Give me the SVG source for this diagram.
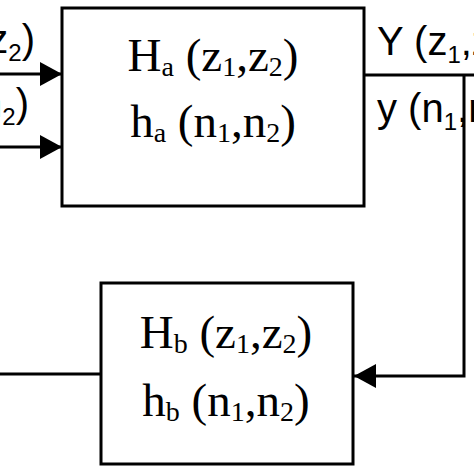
<svg xmlns="http://www.w3.org/2000/svg" width="474" height="474" viewBox="0 0 474 474">
  <style>
    .box { fill: #ffffff; stroke: #000000; stroke-width: 3; }
    .wire { fill: none; stroke: #000000; stroke-width: 3; }
    .serif { font-family: "Liberation Serif", "Times New Roman", serif; font-size: 47px; fill: #000000; }
    .sans { font-family: "Liberation Sans", Arial, sans-serif; font-size: 40px; fill: #000000; }
  </style>
  <defs>
    <marker id="arrow" markerUnits="userSpaceOnUse" markerWidth="23" markerHeight="24" refX="22" refY="12" orient="auto" viewBox="0 0 23 24">
      <path d="M0,0 L22,12 L0,24 Z" fill="#000000"/>
    </marker>
  </defs>
  <rect width="474" height="474" fill="#ffffff"/>

  <g id="connectors">
    <line class="wire" x1="0" y1="74" x2="62" y2="74" marker-end="url(#arrow)"/>
    <line class="wire" x1="0" y1="147" x2="62" y2="147" marker-end="url(#arrow)"/>
    <polyline class="wire" points="364,75 474,75"/>
    <polyline class="wire" points="464,75 464,376 354,376" marker-end="url(#arrow)"/>
    <line class="wire" x1="0" y1="374" x2="101" y2="374"/>
  </g>

  <g id="input-labels">
    <text class="sans" x="35" y="53" text-anchor="end">X (z<tspan font-size="24" dy="8">1</tspan><tspan dy="-8">,z</tspan><tspan font-size="24" dy="8">2</tspan><tspan dy="-8">)</tspan></text>
    <text class="sans" x="29" y="117" text-anchor="end">x (n<tspan font-size="24" dy="8">1</tspan><tspan dy="-8">,n</tspan><tspan font-size="24" dy="8">2</tspan><tspan dy="-8">)</tspan></text>
  </g>

  <g id="node-a">
    <rect class="box" x="62" y="8" width="302" height="198"/>
    <text class="serif" x="213" y="71" text-anchor="middle">H<tspan font-size="28" dy="5">a</tspan><tspan dy="-5"> (z</tspan><tspan font-size="28" dy="5">1</tspan><tspan dy="-5">,z</tspan><tspan font-size="28" dy="5">2</tspan><tspan dy="-5">)</tspan></text>
    <text class="serif" x="213" y="137" text-anchor="middle">h<tspan font-size="28" dy="5">a</tspan><tspan dy="-5"> (n</tspan><tspan font-size="28" dy="5">1</tspan><tspan dy="-5">,n</tspan><tspan font-size="28" dy="5">2</tspan><tspan dy="-5">)</tspan></text>
  </g>

  <g id="output-labels">
    <text class="sans" x="377" y="55">Y (z<tspan font-size="24" dy="8">1</tspan><tspan dy="-8">,z</tspan><tspan font-size="24" dy="8">2</tspan><tspan dy="-8">)</tspan></text>
    <text class="sans" x="377" y="122">y (n<tspan font-size="24" dy="8">1</tspan><tspan dy="-8">,n</tspan><tspan font-size="24" dy="8">2</tspan><tspan dy="-8">)</tspan></text>
  </g>

  <g id="node-b">
    <rect class="box" x="101" y="283" width="252" height="181"/>
    <text class="serif" x="226" y="348" text-anchor="middle">H<tspan font-size="28" dy="5">b</tspan><tspan dy="-5"> (z</tspan><tspan font-size="28" dy="5">1</tspan><tspan dy="-5">,z</tspan><tspan font-size="28" dy="5">2</tspan><tspan dy="-5">)</tspan></text>
    <text class="serif" x="226" y="416" text-anchor="middle">h<tspan font-size="28" dy="5">b</tspan><tspan dy="-5"> (n</tspan><tspan font-size="28" dy="5">1</tspan><tspan dy="-5">,n</tspan><tspan font-size="28" dy="5">2</tspan><tspan dy="-5">)</tspan></text>
  </g>
</svg>
